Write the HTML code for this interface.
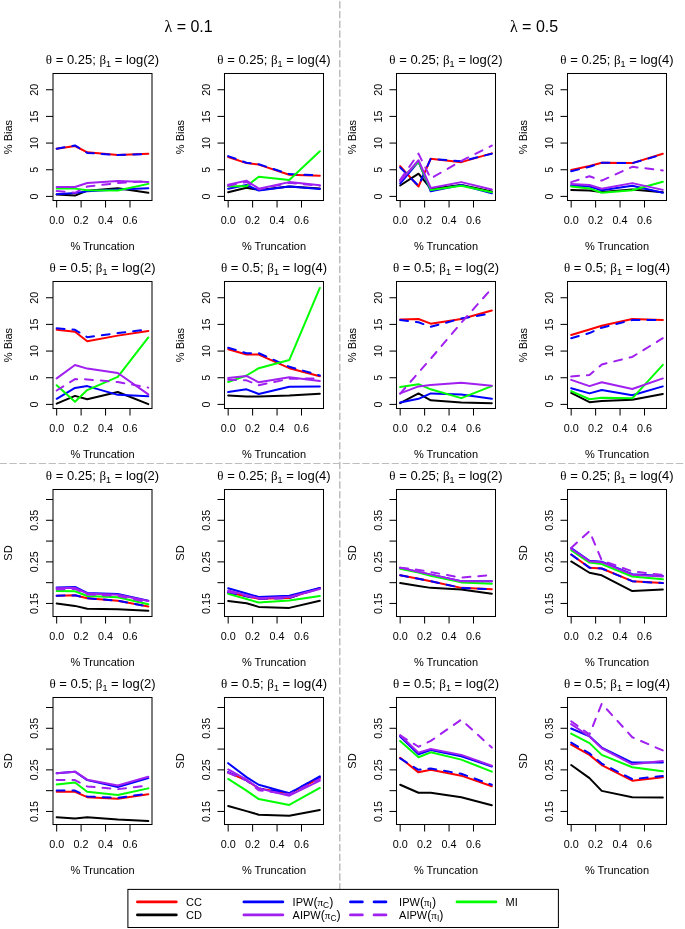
<!DOCTYPE html>
<html><head><meta charset="utf-8"><style>
html,body{margin:0;padding:0;background:#fff;}
svg{display:block;will-change:transform;font-family:"Liberation Sans", sans-serif;fill:#000;}
svg text{font-family:"Liberation Sans", sans-serif;fill:#000;}
.g{font-family:"Liberation Serif", serif;}
</style></head><body>
<svg width="685" height="929" viewBox="0 0 685 929">
<rect width="685" height="929" fill="#fff"/>
<clipPath id="cp00"><rect x="53" y="73.5" width="99" height="127"/></clipPath>
<g clip-path="url(#cp00)" fill="none" stroke-width="2.0" stroke-linejoin="round" stroke-linecap="round">
<polyline points="56.67,148.65 75,146 87.22,152.35 117.78,155 148.33,153.68" stroke="#FF0000"/>
<polyline points="56.67,194.5 75,195.61 87.22,190.63 117.78,188.36 148.33,192.81" stroke="#000000"/>
<polyline points="56.67,194.29 75,193.12 87.22,191.27 117.78,189.42 148.33,188.36" stroke="#0000FF"/>
<polyline points="56.67,148.65 75,145.47 87.22,152.88 117.78,155 148.33,153.94" stroke="#0000FF" stroke-dasharray="7.9 7.9"/>
<polyline points="56.67,188.62 75,188.62 87.22,190.21 117.78,190.48 148.33,183.86" stroke="#00FF00"/>
<polyline points="56.67,186.93 75,186.93 87.22,183.06 117.78,180.94 148.33,182" stroke="#A020F0"/>
<polyline points="56.67,191.01 75,192.86 87.22,186.5 117.78,183.06 148.33,180.94" stroke="#A020F0" stroke-dasharray="7.9 7.9"/>
</g>
<rect x="53" y="73.5" width="99" height="127" fill="none" stroke="#000" stroke-width="1.03"/>
<line x1="56.67" y1="200.5" x2="56.67" y2="207.5" stroke="#000" stroke-width="1.03"/>
<text x="56.67" y="223.8" font-size="10.8" text-anchor="middle">0.0</text>
<line x1="81.11" y1="200.5" x2="81.11" y2="207.5" stroke="#000" stroke-width="1.03"/>
<text x="81.11" y="223.8" font-size="10.8" text-anchor="middle">0.2</text>
<line x1="105.56" y1="200.5" x2="105.56" y2="207.5" stroke="#000" stroke-width="1.03"/>
<text x="105.56" y="223.8" font-size="10.8" text-anchor="middle">0.4</text>
<line x1="130" y1="200.5" x2="130" y2="207.5" stroke="#000" stroke-width="1.03"/>
<text x="130" y="223.8" font-size="10.8" text-anchor="middle">0.6</text>
<text x="102.5" y="249.8" font-size="11.0" text-anchor="middle">% Truncation</text>
<line x1="46" y1="196.4" x2="53" y2="196.4" stroke="#000" stroke-width="1.03"/>
<text transform="translate(38,196.4) rotate(-90)" font-size="10.8" text-anchor="middle">0</text>
<line x1="46" y1="169.74" x2="53" y2="169.74" stroke="#000" stroke-width="1.03"/>
<text transform="translate(38,169.74) rotate(-90)" font-size="10.8" text-anchor="middle">5</text>
<line x1="46" y1="143.07" x2="53" y2="143.07" stroke="#000" stroke-width="1.03"/>
<text transform="translate(38,143.07) rotate(-90)" font-size="10.8" text-anchor="middle">10</text>
<line x1="46" y1="116.41" x2="53" y2="116.41" stroke="#000" stroke-width="1.03"/>
<text transform="translate(38,116.41) rotate(-90)" font-size="10.8" text-anchor="middle">15</text>
<line x1="46" y1="89.74" x2="53" y2="89.74" stroke="#000" stroke-width="1.03"/>
<text transform="translate(38,89.74) rotate(-90)" font-size="10.8" text-anchor="middle">20</text>
<text transform="translate(12.2,137) rotate(-90)" font-size="11.0" text-anchor="middle">% Bias</text>
<text x="102.5" y="64" font-size="13.0" text-anchor="middle"><tspan class="g">θ</tspan> = 0.25; <tspan class="g">β</tspan><tspan font-size="9.10" dy="2.5">1</tspan><tspan dy="-2.5"> = log(2)</tspan></text>
<clipPath id="cp01"><rect x="224.5" y="73.5" width="99" height="127"/></clipPath>
<g clip-path="url(#cp01)" fill="none" stroke-width="2.0" stroke-linejoin="round" stroke-linecap="round">
<polyline points="228.17,157.01 246.5,163.1 258.72,164.58 289.28,174.8 319.83,175.81" stroke="#FF0000"/>
<polyline points="228.17,192.33 246.5,187.67 258.72,189.89 289.28,186.5 319.83,188.62" stroke="#000000"/>
<polyline points="228.17,188.68 246.5,185.02 258.72,190.58 289.28,186.5 319.83,188.99" stroke="#0000FF"/>
<polyline points="228.17,156.11 246.5,162.78 258.72,164.27 289.28,174.11 319.83,175.28" stroke="#0000FF" stroke-dasharray="7.9 7.9"/>
<polyline points="228.17,186.24 246.5,186.24 258.72,176.71 289.28,179.94 319.83,151.19" stroke="#00FF00"/>
<polyline points="228.17,184.76 246.5,180.63 258.72,188.68 289.28,182.11 319.83,185.34" stroke="#A020F0"/>
<polyline points="228.17,185.71 246.5,182 258.72,189.42 289.28,182.8 319.83,185.71" stroke="#A020F0" stroke-dasharray="7.9 7.9"/>
</g>
<rect x="224.5" y="73.5" width="99" height="127" fill="none" stroke="#000" stroke-width="1.03"/>
<line x1="228.17" y1="200.5" x2="228.17" y2="207.5" stroke="#000" stroke-width="1.03"/>
<text x="228.17" y="223.8" font-size="10.8" text-anchor="middle">0.0</text>
<line x1="252.61" y1="200.5" x2="252.61" y2="207.5" stroke="#000" stroke-width="1.03"/>
<text x="252.61" y="223.8" font-size="10.8" text-anchor="middle">0.2</text>
<line x1="277.06" y1="200.5" x2="277.06" y2="207.5" stroke="#000" stroke-width="1.03"/>
<text x="277.06" y="223.8" font-size="10.8" text-anchor="middle">0.4</text>
<line x1="301.5" y1="200.5" x2="301.5" y2="207.5" stroke="#000" stroke-width="1.03"/>
<text x="301.5" y="223.8" font-size="10.8" text-anchor="middle">0.6</text>
<text x="274" y="249.8" font-size="11.0" text-anchor="middle">% Truncation</text>
<line x1="217.5" y1="196.4" x2="224.5" y2="196.4" stroke="#000" stroke-width="1.03"/>
<text transform="translate(209.5,196.4) rotate(-90)" font-size="10.8" text-anchor="middle">0</text>
<line x1="217.5" y1="169.74" x2="224.5" y2="169.74" stroke="#000" stroke-width="1.03"/>
<text transform="translate(209.5,169.74) rotate(-90)" font-size="10.8" text-anchor="middle">5</text>
<line x1="217.5" y1="143.07" x2="224.5" y2="143.07" stroke="#000" stroke-width="1.03"/>
<text transform="translate(209.5,143.07) rotate(-90)" font-size="10.8" text-anchor="middle">10</text>
<line x1="217.5" y1="116.41" x2="224.5" y2="116.41" stroke="#000" stroke-width="1.03"/>
<text transform="translate(209.5,116.41) rotate(-90)" font-size="10.8" text-anchor="middle">15</text>
<line x1="217.5" y1="89.74" x2="224.5" y2="89.74" stroke="#000" stroke-width="1.03"/>
<text transform="translate(209.5,89.74) rotate(-90)" font-size="10.8" text-anchor="middle">20</text>
<text transform="translate(183.7,137) rotate(-90)" font-size="11.0" text-anchor="middle">% Bias</text>
<text x="274" y="64" font-size="13.0" text-anchor="middle"><tspan class="g">θ</tspan> = 0.25; <tspan class="g">β</tspan><tspan font-size="9.10" dy="2.5">1</tspan><tspan dy="-2.5"> = log(4)</tspan></text>
<clipPath id="cp02"><rect x="396.5" y="73.5" width="99" height="127"/></clipPath>
<g clip-path="url(#cp02)" fill="none" stroke-width="2.0" stroke-linejoin="round" stroke-linecap="round">
<polyline points="400.17,166.07 418.5,186.5 430.72,158.76 461.28,162.15 491.83,153.36" stroke="#FF0000"/>
<polyline points="400.17,185.5 418.5,173.69 430.72,188.68 461.28,185.02 491.83,191.59" stroke="#000000"/>
<polyline points="400.17,183.59 418.5,161.67 430.72,191.32 461.28,185.02 491.83,193.39" stroke="#0000FF"/>
<polyline points="400.17,167.55 418.5,185.76 430.72,158.76 461.28,161.35 491.83,153.68" stroke="#0000FF" stroke-dasharray="7.9 7.9"/>
<polyline points="400.17,179.89 418.5,161.88 430.72,189.89 461.28,185.76 491.83,192.33" stroke="#00FF00"/>
<polyline points="400.17,181.42 418.5,160.24 430.72,187.99 461.28,182.11 491.83,189.42" stroke="#A020F0"/>
<polyline points="400.17,179.89 418.5,153.68 430.72,178.46 461.28,160.98 491.83,145.63" stroke="#A020F0" stroke-dasharray="7.9 7.9"/>
</g>
<rect x="396.5" y="73.5" width="99" height="127" fill="none" stroke="#000" stroke-width="1.03"/>
<line x1="400.17" y1="200.5" x2="400.17" y2="207.5" stroke="#000" stroke-width="1.03"/>
<text x="400.17" y="223.8" font-size="10.8" text-anchor="middle">0.0</text>
<line x1="424.61" y1="200.5" x2="424.61" y2="207.5" stroke="#000" stroke-width="1.03"/>
<text x="424.61" y="223.8" font-size="10.8" text-anchor="middle">0.2</text>
<line x1="449.06" y1="200.5" x2="449.06" y2="207.5" stroke="#000" stroke-width="1.03"/>
<text x="449.06" y="223.8" font-size="10.8" text-anchor="middle">0.4</text>
<line x1="473.5" y1="200.5" x2="473.5" y2="207.5" stroke="#000" stroke-width="1.03"/>
<text x="473.5" y="223.8" font-size="10.8" text-anchor="middle">0.6</text>
<text x="446" y="249.8" font-size="11.0" text-anchor="middle">% Truncation</text>
<line x1="389.5" y1="196.4" x2="396.5" y2="196.4" stroke="#000" stroke-width="1.03"/>
<text transform="translate(381.5,196.4) rotate(-90)" font-size="10.8" text-anchor="middle">0</text>
<line x1="389.5" y1="169.74" x2="396.5" y2="169.74" stroke="#000" stroke-width="1.03"/>
<text transform="translate(381.5,169.74) rotate(-90)" font-size="10.8" text-anchor="middle">5</text>
<line x1="389.5" y1="143.07" x2="396.5" y2="143.07" stroke="#000" stroke-width="1.03"/>
<text transform="translate(381.5,143.07) rotate(-90)" font-size="10.8" text-anchor="middle">10</text>
<line x1="389.5" y1="116.41" x2="396.5" y2="116.41" stroke="#000" stroke-width="1.03"/>
<text transform="translate(381.5,116.41) rotate(-90)" font-size="10.8" text-anchor="middle">15</text>
<line x1="389.5" y1="89.74" x2="396.5" y2="89.74" stroke="#000" stroke-width="1.03"/>
<text transform="translate(381.5,89.74) rotate(-90)" font-size="10.8" text-anchor="middle">20</text>
<text transform="translate(355.7,137) rotate(-90)" font-size="11.0" text-anchor="middle">% Bias</text>
<text x="446" y="64" font-size="13.0" text-anchor="middle"><tspan class="g">θ</tspan> = 0.25; <tspan class="g">β</tspan><tspan font-size="9.10" dy="2.5">1</tspan><tspan dy="-2.5"> = log(2)</tspan></text>
<clipPath id="cp03"><rect x="567.5" y="73.5" width="99" height="127"/></clipPath>
<g clip-path="url(#cp03)" fill="none" stroke-width="2.0" stroke-linejoin="round" stroke-linecap="round">
<polyline points="571.17,169.98 589.5,166.07 601.72,162.68 632.28,163.1 662.83,153.68" stroke="#FF0000"/>
<polyline points="571.17,189.89 589.5,190.42 601.72,191.91 632.28,189.42 662.83,192.33" stroke="#000000"/>
<polyline points="571.17,185.5 589.5,186.5 601.72,190.21 632.28,185.76 662.83,192.81" stroke="#0000FF"/>
<polyline points="571.17,171.2 589.5,166.81 601.72,162.68 632.28,163.1 662.83,154.36" stroke="#0000FF" stroke-dasharray="7.9 7.9"/>
<polyline points="571.17,186.5 589.5,188.41 601.72,192.81 632.28,190.21 662.83,181.69" stroke="#00FF00"/>
<polyline points="571.17,184.02 589.5,185.02 601.72,188.68 632.28,183.12 662.83,189.89" stroke="#A020F0"/>
<polyline points="571.17,182.11 589.5,176.28 601.72,180.68 632.28,166.81 662.83,170.41" stroke="#A020F0" stroke-dasharray="7.9 7.9"/>
</g>
<rect x="567.5" y="73.5" width="99" height="127" fill="none" stroke="#000" stroke-width="1.03"/>
<line x1="571.17" y1="200.5" x2="571.17" y2="207.5" stroke="#000" stroke-width="1.03"/>
<text x="571.17" y="223.8" font-size="10.8" text-anchor="middle">0.0</text>
<line x1="595.61" y1="200.5" x2="595.61" y2="207.5" stroke="#000" stroke-width="1.03"/>
<text x="595.61" y="223.8" font-size="10.8" text-anchor="middle">0.2</text>
<line x1="620.06" y1="200.5" x2="620.06" y2="207.5" stroke="#000" stroke-width="1.03"/>
<text x="620.06" y="223.8" font-size="10.8" text-anchor="middle">0.4</text>
<line x1="644.5" y1="200.5" x2="644.5" y2="207.5" stroke="#000" stroke-width="1.03"/>
<text x="644.5" y="223.8" font-size="10.8" text-anchor="middle">0.6</text>
<text x="617" y="249.8" font-size="11.0" text-anchor="middle">% Truncation</text>
<line x1="560.5" y1="196.4" x2="567.5" y2="196.4" stroke="#000" stroke-width="1.03"/>
<text transform="translate(552.5,196.4) rotate(-90)" font-size="10.8" text-anchor="middle">0</text>
<line x1="560.5" y1="169.74" x2="567.5" y2="169.74" stroke="#000" stroke-width="1.03"/>
<text transform="translate(552.5,169.74) rotate(-90)" font-size="10.8" text-anchor="middle">5</text>
<line x1="560.5" y1="143.07" x2="567.5" y2="143.07" stroke="#000" stroke-width="1.03"/>
<text transform="translate(552.5,143.07) rotate(-90)" font-size="10.8" text-anchor="middle">10</text>
<line x1="560.5" y1="116.41" x2="567.5" y2="116.41" stroke="#000" stroke-width="1.03"/>
<text transform="translate(552.5,116.41) rotate(-90)" font-size="10.8" text-anchor="middle">15</text>
<line x1="560.5" y1="89.74" x2="567.5" y2="89.74" stroke="#000" stroke-width="1.03"/>
<text transform="translate(552.5,89.74) rotate(-90)" font-size="10.8" text-anchor="middle">20</text>
<text transform="translate(526.7,137) rotate(-90)" font-size="11.0" text-anchor="middle">% Bias</text>
<text x="617" y="64" font-size="13.0" text-anchor="middle"><tspan class="g">θ</tspan> = 0.25; <tspan class="g">β</tspan><tspan font-size="9.10" dy="2.5">1</tspan><tspan dy="-2.5"> = log(4)</tspan></text>
<clipPath id="cp10"><rect x="53" y="281.5" width="99" height="127"/></clipPath>
<g clip-path="url(#cp10)" fill="none" stroke-width="2.0" stroke-linejoin="round" stroke-linecap="round">
<polyline points="56.67,329.8 75,331.71 87.22,341.18 117.78,335.62 148.33,330.91" stroke="#FF0000"/>
<polyline points="56.67,403.61 75,395.88 87.22,399.27 117.78,392.02 148.33,404.19" stroke="#000000"/>
<polyline points="56.67,398.79 75,387.89 87.22,386.09 117.78,394.87 148.33,396.3" stroke="#0000FF"/>
<polyline points="56.67,328.32 75,329.8 87.22,337.21 117.78,333.08 148.33,329.48" stroke="#0000FF" stroke-dasharray="7.9 7.9"/>
<polyline points="56.67,385.24 75,401.71 87.22,390.06 117.78,376.92 148.33,337.48" stroke="#00FF00"/>
<polyline points="56.67,378.41 75,364.96 87.22,368.61 117.78,373.01 148.33,394.4" stroke="#A020F0"/>
<polyline points="56.67,390.48 75,379.1 87.22,379.41 117.78,382.01 148.33,387.62" stroke="#A020F0" stroke-dasharray="7.9 7.9"/>
</g>
<rect x="53" y="281.5" width="99" height="127" fill="none" stroke="#000" stroke-width="1.03"/>
<line x1="56.67" y1="408.5" x2="56.67" y2="415.5" stroke="#000" stroke-width="1.03"/>
<text x="56.67" y="431.8" font-size="10.8" text-anchor="middle">0.0</text>
<line x1="81.11" y1="408.5" x2="81.11" y2="415.5" stroke="#000" stroke-width="1.03"/>
<text x="81.11" y="431.8" font-size="10.8" text-anchor="middle">0.2</text>
<line x1="105.56" y1="408.5" x2="105.56" y2="415.5" stroke="#000" stroke-width="1.03"/>
<text x="105.56" y="431.8" font-size="10.8" text-anchor="middle">0.4</text>
<line x1="130" y1="408.5" x2="130" y2="415.5" stroke="#000" stroke-width="1.03"/>
<text x="130" y="431.8" font-size="10.8" text-anchor="middle">0.6</text>
<text x="102.5" y="457.8" font-size="11.0" text-anchor="middle">% Truncation</text>
<line x1="46" y1="404.4" x2="53" y2="404.4" stroke="#000" stroke-width="1.03"/>
<text transform="translate(38,404.4) rotate(-90)" font-size="10.8" text-anchor="middle">0</text>
<line x1="46" y1="377.73" x2="53" y2="377.73" stroke="#000" stroke-width="1.03"/>
<text transform="translate(38,377.73) rotate(-90)" font-size="10.8" text-anchor="middle">5</text>
<line x1="46" y1="351.07" x2="53" y2="351.07" stroke="#000" stroke-width="1.03"/>
<text transform="translate(38,351.07) rotate(-90)" font-size="10.8" text-anchor="middle">10</text>
<line x1="46" y1="324.4" x2="53" y2="324.4" stroke="#000" stroke-width="1.03"/>
<text transform="translate(38,324.4) rotate(-90)" font-size="10.8" text-anchor="middle">15</text>
<line x1="46" y1="297.74" x2="53" y2="297.74" stroke="#000" stroke-width="1.03"/>
<text transform="translate(38,297.74) rotate(-90)" font-size="10.8" text-anchor="middle">20</text>
<text transform="translate(12.2,345) rotate(-90)" font-size="11.0" text-anchor="middle">% Bias</text>
<text x="102.5" y="272" font-size="13.0" text-anchor="middle"><tspan class="g">θ</tspan> = 0.5; <tspan class="g">β</tspan><tspan font-size="9.10" dy="2.5">1</tspan><tspan dy="-2.5"> = log(2)</tspan></text>
<clipPath id="cp11"><rect x="224.5" y="281.5" width="99" height="127"/></clipPath>
<g clip-path="url(#cp11)" fill="none" stroke-width="2.0" stroke-linejoin="round" stroke-linecap="round">
<polyline points="228.17,349.18 246.5,354.58 258.72,354.58 289.28,368.19 319.83,376.18" stroke="#FF0000"/>
<polyline points="228.17,395.46 246.5,396.62 258.72,396.62 289.28,395.56 319.83,393.71" stroke="#000000"/>
<polyline points="228.17,392.02 246.5,389.32 258.72,393.97 289.28,386.72 319.83,386.51" stroke="#0000FF"/>
<polyline points="228.17,347.7 246.5,353.31 258.72,353.2 289.28,366.71 319.83,375.5" stroke="#0000FF" stroke-dasharray="7.9 7.9"/>
<polyline points="228.17,382.01 246.5,375.5 258.72,368.19 289.28,360.09 319.83,287.92" stroke="#00FF00"/>
<polyline points="228.17,377.93 246.5,375.92 258.72,382.33 289.28,377.19 319.83,381" stroke="#A020F0"/>
<polyline points="228.17,379.84 246.5,380.31 258.72,385.24 289.28,378.83 319.83,378.41" stroke="#A020F0" stroke-dasharray="7.9 7.9"/>
</g>
<rect x="224.5" y="281.5" width="99" height="127" fill="none" stroke="#000" stroke-width="1.03"/>
<line x1="228.17" y1="408.5" x2="228.17" y2="415.5" stroke="#000" stroke-width="1.03"/>
<text x="228.17" y="431.8" font-size="10.8" text-anchor="middle">0.0</text>
<line x1="252.61" y1="408.5" x2="252.61" y2="415.5" stroke="#000" stroke-width="1.03"/>
<text x="252.61" y="431.8" font-size="10.8" text-anchor="middle">0.2</text>
<line x1="277.06" y1="408.5" x2="277.06" y2="415.5" stroke="#000" stroke-width="1.03"/>
<text x="277.06" y="431.8" font-size="10.8" text-anchor="middle">0.4</text>
<line x1="301.5" y1="408.5" x2="301.5" y2="415.5" stroke="#000" stroke-width="1.03"/>
<text x="301.5" y="431.8" font-size="10.8" text-anchor="middle">0.6</text>
<text x="274" y="457.8" font-size="11.0" text-anchor="middle">% Truncation</text>
<line x1="217.5" y1="404.4" x2="224.5" y2="404.4" stroke="#000" stroke-width="1.03"/>
<text transform="translate(209.5,404.4) rotate(-90)" font-size="10.8" text-anchor="middle">0</text>
<line x1="217.5" y1="377.73" x2="224.5" y2="377.73" stroke="#000" stroke-width="1.03"/>
<text transform="translate(209.5,377.73) rotate(-90)" font-size="10.8" text-anchor="middle">5</text>
<line x1="217.5" y1="351.07" x2="224.5" y2="351.07" stroke="#000" stroke-width="1.03"/>
<text transform="translate(209.5,351.07) rotate(-90)" font-size="10.8" text-anchor="middle">10</text>
<line x1="217.5" y1="324.4" x2="224.5" y2="324.4" stroke="#000" stroke-width="1.03"/>
<text transform="translate(209.5,324.4) rotate(-90)" font-size="10.8" text-anchor="middle">15</text>
<line x1="217.5" y1="297.74" x2="224.5" y2="297.74" stroke="#000" stroke-width="1.03"/>
<text transform="translate(209.5,297.74) rotate(-90)" font-size="10.8" text-anchor="middle">20</text>
<text transform="translate(183.7,345) rotate(-90)" font-size="11.0" text-anchor="middle">% Bias</text>
<text x="274" y="272" font-size="13.0" text-anchor="middle"><tspan class="g">θ</tspan> = 0.5; <tspan class="g">β</tspan><tspan font-size="9.10" dy="2.5">1</tspan><tspan dy="-2.5"> = log(4)</tspan></text>
<clipPath id="cp12"><rect x="396.5" y="281.5" width="99" height="127"/></clipPath>
<g clip-path="url(#cp12)" fill="none" stroke-width="2.0" stroke-linejoin="round" stroke-linecap="round">
<polyline points="400.17,319.53 418.5,319 430.72,323.66 461.28,319 491.83,310.53" stroke="#FF0000"/>
<polyline points="400.17,403.19 418.5,393.39 430.72,400.28 461.28,402.5 491.83,403.19" stroke="#000000"/>
<polyline points="400.17,402.5 418.5,398.79 430.72,393.39 461.28,394.4 491.83,398.79" stroke="#0000FF"/>
<polyline points="400.17,320 418.5,322.23 430.72,326.83 461.28,318.52 491.83,313.38" stroke="#0000FF" stroke-dasharray="7.9 7.9"/>
<polyline points="400.17,387.09 418.5,384.18 430.72,389.32 461.28,398.1 491.83,386.09" stroke="#00FF00"/>
<polyline points="400.17,393.39 418.5,386.4 430.72,384.92 461.28,382.8 491.83,385.71" stroke="#A020F0"/>
<polyline points="400.17,393.71 418.5,372.53 430.72,358.76 461.28,322.76 491.83,288.34" stroke="#A020F0" stroke-dasharray="7.9 7.9"/>
</g>
<rect x="396.5" y="281.5" width="99" height="127" fill="none" stroke="#000" stroke-width="1.03"/>
<line x1="400.17" y1="408.5" x2="400.17" y2="415.5" stroke="#000" stroke-width="1.03"/>
<text x="400.17" y="431.8" font-size="10.8" text-anchor="middle">0.0</text>
<line x1="424.61" y1="408.5" x2="424.61" y2="415.5" stroke="#000" stroke-width="1.03"/>
<text x="424.61" y="431.8" font-size="10.8" text-anchor="middle">0.2</text>
<line x1="449.06" y1="408.5" x2="449.06" y2="415.5" stroke="#000" stroke-width="1.03"/>
<text x="449.06" y="431.8" font-size="10.8" text-anchor="middle">0.4</text>
<line x1="473.5" y1="408.5" x2="473.5" y2="415.5" stroke="#000" stroke-width="1.03"/>
<text x="473.5" y="431.8" font-size="10.8" text-anchor="middle">0.6</text>
<text x="446" y="457.8" font-size="11.0" text-anchor="middle">% Truncation</text>
<line x1="389.5" y1="404.4" x2="396.5" y2="404.4" stroke="#000" stroke-width="1.03"/>
<text transform="translate(381.5,404.4) rotate(-90)" font-size="10.8" text-anchor="middle">0</text>
<line x1="389.5" y1="377.73" x2="396.5" y2="377.73" stroke="#000" stroke-width="1.03"/>
<text transform="translate(381.5,377.73) rotate(-90)" font-size="10.8" text-anchor="middle">5</text>
<line x1="389.5" y1="351.07" x2="396.5" y2="351.07" stroke="#000" stroke-width="1.03"/>
<text transform="translate(381.5,351.07) rotate(-90)" font-size="10.8" text-anchor="middle">10</text>
<line x1="389.5" y1="324.4" x2="396.5" y2="324.4" stroke="#000" stroke-width="1.03"/>
<text transform="translate(381.5,324.4) rotate(-90)" font-size="10.8" text-anchor="middle">15</text>
<line x1="389.5" y1="297.74" x2="396.5" y2="297.74" stroke="#000" stroke-width="1.03"/>
<text transform="translate(381.5,297.74) rotate(-90)" font-size="10.8" text-anchor="middle">20</text>
<text transform="translate(355.7,345) rotate(-90)" font-size="11.0" text-anchor="middle">% Bias</text>
<text x="446" y="272" font-size="13.0" text-anchor="middle"><tspan class="g">θ</tspan> = 0.5; <tspan class="g">β</tspan><tspan font-size="9.10" dy="2.5">1</tspan><tspan dy="-2.5"> = log(2)</tspan></text>
<clipPath id="cp13"><rect x="567.5" y="281.5" width="99" height="127"/></clipPath>
<g clip-path="url(#cp13)" fill="none" stroke-width="2.0" stroke-linejoin="round" stroke-linecap="round">
<polyline points="571.17,334.99 589.5,329.48 601.72,325.83 632.28,319 662.83,320" stroke="#FF0000"/>
<polyline points="571.17,392.97 589.5,402.18 601.72,401.02 632.28,399.85 662.83,393.97" stroke="#000000"/>
<polyline points="571.17,388.31 589.5,393.39 601.72,390.06 632.28,395.19 662.83,386.4" stroke="#0000FF"/>
<polyline points="571.17,338.22 589.5,333.08 601.72,327.68 632.28,320 662.83,320" stroke="#0000FF" stroke-dasharray="7.9 7.9"/>
<polyline points="571.17,391.06 589.5,399.27 601.72,397.79 632.28,398.37 662.83,364.8" stroke="#00FF00"/>
<polyline points="571.17,379.84 589.5,386.09 601.72,382.33 632.28,389.05 662.83,378.41" stroke="#A020F0"/>
<polyline points="571.17,376.5 589.5,375.02 601.72,364.48 632.28,356.91 662.83,338.22" stroke="#A020F0" stroke-dasharray="7.9 7.9"/>
</g>
<rect x="567.5" y="281.5" width="99" height="127" fill="none" stroke="#000" stroke-width="1.03"/>
<line x1="571.17" y1="408.5" x2="571.17" y2="415.5" stroke="#000" stroke-width="1.03"/>
<text x="571.17" y="431.8" font-size="10.8" text-anchor="middle">0.0</text>
<line x1="595.61" y1="408.5" x2="595.61" y2="415.5" stroke="#000" stroke-width="1.03"/>
<text x="595.61" y="431.8" font-size="10.8" text-anchor="middle">0.2</text>
<line x1="620.06" y1="408.5" x2="620.06" y2="415.5" stroke="#000" stroke-width="1.03"/>
<text x="620.06" y="431.8" font-size="10.8" text-anchor="middle">0.4</text>
<line x1="644.5" y1="408.5" x2="644.5" y2="415.5" stroke="#000" stroke-width="1.03"/>
<text x="644.5" y="431.8" font-size="10.8" text-anchor="middle">0.6</text>
<text x="617" y="457.8" font-size="11.0" text-anchor="middle">% Truncation</text>
<line x1="560.5" y1="404.4" x2="567.5" y2="404.4" stroke="#000" stroke-width="1.03"/>
<text transform="translate(552.5,404.4) rotate(-90)" font-size="10.8" text-anchor="middle">0</text>
<line x1="560.5" y1="377.73" x2="567.5" y2="377.73" stroke="#000" stroke-width="1.03"/>
<text transform="translate(552.5,377.73) rotate(-90)" font-size="10.8" text-anchor="middle">5</text>
<line x1="560.5" y1="351.07" x2="567.5" y2="351.07" stroke="#000" stroke-width="1.03"/>
<text transform="translate(552.5,351.07) rotate(-90)" font-size="10.8" text-anchor="middle">10</text>
<line x1="560.5" y1="324.4" x2="567.5" y2="324.4" stroke="#000" stroke-width="1.03"/>
<text transform="translate(552.5,324.4) rotate(-90)" font-size="10.8" text-anchor="middle">15</text>
<line x1="560.5" y1="297.74" x2="567.5" y2="297.74" stroke="#000" stroke-width="1.03"/>
<text transform="translate(552.5,297.74) rotate(-90)" font-size="10.8" text-anchor="middle">20</text>
<text transform="translate(526.7,345) rotate(-90)" font-size="11.0" text-anchor="middle">% Bias</text>
<text x="617" y="272" font-size="13.0" text-anchor="middle"><tspan class="g">θ</tspan> = 0.5; <tspan class="g">β</tspan><tspan font-size="9.10" dy="2.5">1</tspan><tspan dy="-2.5"> = log(4)</tspan></text>
<clipPath id="cp20"><rect x="53" y="489.5" width="99" height="127"/></clipPath>
<g clip-path="url(#cp20)" fill="none" stroke-width="2.0" stroke-linejoin="round" stroke-linecap="round">
<polyline points="56.67,595.81 75,595.31 87.22,598.22 117.78,600.71 148.33,606.48" stroke="#FF0000"/>
<polyline points="56.67,603.49 75,605.9 87.22,608.81 117.78,609.22 148.33,610.72" stroke="#000000"/>
<polyline points="56.67,587.5 75,587 87.22,592.9 117.78,593.9 148.33,600.71" stroke="#0000FF"/>
<polyline points="56.67,595.81 75,595.31 87.22,598.22 117.78,600.71 148.33,606.48" stroke="#0000FF" stroke-dasharray="7.9 7.9"/>
<polyline points="56.67,590.91 75,591.28 87.22,595.97 117.78,597.18 148.33,604.2" stroke="#00FF00"/>
<polyline points="56.67,588.21 75,587.79 87.22,593.48 117.78,594.69 148.33,601.08" stroke="#A020F0"/>
<polyline points="56.67,589.37 75,588.95 87.22,594.56 117.78,595.81 148.33,602.45" stroke="#A020F0" stroke-dasharray="7.9 7.9"/>
</g>
<rect x="53" y="489.5" width="99" height="127" fill="none" stroke="#000" stroke-width="1.03"/>
<line x1="56.67" y1="616.5" x2="56.67" y2="623.5" stroke="#000" stroke-width="1.03"/>
<text x="56.67" y="639.8" font-size="10.8" text-anchor="middle">0.0</text>
<line x1="81.11" y1="616.5" x2="81.11" y2="623.5" stroke="#000" stroke-width="1.03"/>
<text x="81.11" y="639.8" font-size="10.8" text-anchor="middle">0.2</text>
<line x1="105.56" y1="616.5" x2="105.56" y2="623.5" stroke="#000" stroke-width="1.03"/>
<text x="105.56" y="639.8" font-size="10.8" text-anchor="middle">0.4</text>
<line x1="130" y1="616.5" x2="130" y2="623.5" stroke="#000" stroke-width="1.03"/>
<text x="130" y="639.8" font-size="10.8" text-anchor="middle">0.6</text>
<text x="102.5" y="665.8" font-size="11.0" text-anchor="middle">% Truncation</text>
<line x1="46" y1="603.45" x2="53" y2="603.45" stroke="#000" stroke-width="1.03"/>
<text transform="translate(38,603.45) rotate(-90)" font-size="10.8" text-anchor="middle">0.15</text>
<line x1="46" y1="582.66" x2="53" y2="582.66" stroke="#000" stroke-width="1.03"/>
<line x1="46" y1="561.87" x2="53" y2="561.87" stroke="#000" stroke-width="1.03"/>
<text transform="translate(38,561.87) rotate(-90)" font-size="10.8" text-anchor="middle">0.25</text>
<line x1="46" y1="541.08" x2="53" y2="541.08" stroke="#000" stroke-width="1.03"/>
<line x1="46" y1="520.29" x2="53" y2="520.29" stroke="#000" stroke-width="1.03"/>
<text transform="translate(38,520.29) rotate(-90)" font-size="10.8" text-anchor="middle">0.35</text>
<line x1="46" y1="499.5" x2="53" y2="499.5" stroke="#000" stroke-width="1.03"/>
<text transform="translate(12.2,553) rotate(-90)" font-size="11.0" text-anchor="middle">SD</text>
<text x="102.5" y="480" font-size="13.0" text-anchor="middle"><tspan class="g">θ</tspan> = 0.25; <tspan class="g">β</tspan><tspan font-size="9.10" dy="2.5">1</tspan><tspan dy="-2.5"> = log(2)</tspan></text>
<clipPath id="cp21"><rect x="224.5" y="489.5" width="99" height="127"/></clipPath>
<g clip-path="url(#cp21)" fill="none" stroke-width="2.0" stroke-linejoin="round" stroke-linecap="round">
<polyline points="228.17,592.61 246.5,596.31 258.72,598.8 289.28,598.09 319.83,587.91" stroke="#FF0000"/>
<polyline points="228.17,601 246.5,603.2 258.72,606.9 289.28,607.9 319.83,600.79" stroke="#000000"/>
<polyline points="228.17,588.21 246.5,593.48 258.72,597.01 289.28,595.68 319.83,588.08" stroke="#0000FF"/>
<polyline points="228.17,592.61 246.5,596.31 258.72,598.8 289.28,598.09 319.83,587.91" stroke="#0000FF" stroke-dasharray="7.9 7.9"/>
<polyline points="228.17,593.9 246.5,599.05 258.72,602.5 289.28,600.58 319.83,596.1" stroke="#00FF00"/>
<polyline points="228.17,590.41 246.5,595.14 258.72,598.3 289.28,597.01 319.83,589.08" stroke="#A020F0"/>
<polyline points="228.17,591.65 246.5,595.77 258.72,598.51 289.28,597.47 319.83,588.75" stroke="#A020F0" stroke-dasharray="7.9 7.9"/>
</g>
<rect x="224.5" y="489.5" width="99" height="127" fill="none" stroke="#000" stroke-width="1.03"/>
<line x1="228.17" y1="616.5" x2="228.17" y2="623.5" stroke="#000" stroke-width="1.03"/>
<text x="228.17" y="639.8" font-size="10.8" text-anchor="middle">0.0</text>
<line x1="252.61" y1="616.5" x2="252.61" y2="623.5" stroke="#000" stroke-width="1.03"/>
<text x="252.61" y="639.8" font-size="10.8" text-anchor="middle">0.2</text>
<line x1="277.06" y1="616.5" x2="277.06" y2="623.5" stroke="#000" stroke-width="1.03"/>
<text x="277.06" y="639.8" font-size="10.8" text-anchor="middle">0.4</text>
<line x1="301.5" y1="616.5" x2="301.5" y2="623.5" stroke="#000" stroke-width="1.03"/>
<text x="301.5" y="639.8" font-size="10.8" text-anchor="middle">0.6</text>
<text x="274" y="665.8" font-size="11.0" text-anchor="middle">% Truncation</text>
<line x1="217.5" y1="603.45" x2="224.5" y2="603.45" stroke="#000" stroke-width="1.03"/>
<text transform="translate(209.5,603.45) rotate(-90)" font-size="10.8" text-anchor="middle">0.15</text>
<line x1="217.5" y1="582.66" x2="224.5" y2="582.66" stroke="#000" stroke-width="1.03"/>
<line x1="217.5" y1="561.87" x2="224.5" y2="561.87" stroke="#000" stroke-width="1.03"/>
<text transform="translate(209.5,561.87) rotate(-90)" font-size="10.8" text-anchor="middle">0.25</text>
<line x1="217.5" y1="541.08" x2="224.5" y2="541.08" stroke="#000" stroke-width="1.03"/>
<line x1="217.5" y1="520.29" x2="224.5" y2="520.29" stroke="#000" stroke-width="1.03"/>
<text transform="translate(209.5,520.29) rotate(-90)" font-size="10.8" text-anchor="middle">0.35</text>
<line x1="217.5" y1="499.5" x2="224.5" y2="499.5" stroke="#000" stroke-width="1.03"/>
<text transform="translate(183.7,553) rotate(-90)" font-size="11.0" text-anchor="middle">SD</text>
<text x="274" y="480" font-size="13.0" text-anchor="middle"><tspan class="g">θ</tspan> = 0.25; <tspan class="g">β</tspan><tspan font-size="9.10" dy="2.5">1</tspan><tspan dy="-2.5"> = log(4)</tspan></text>
<clipPath id="cp22"><rect x="396.5" y="489.5" width="99" height="127"/></clipPath>
<g clip-path="url(#cp22)" fill="none" stroke-width="2.0" stroke-linejoin="round" stroke-linecap="round">
<polyline points="400.17,575.29 418.5,578.69 430.72,581.19 461.28,587.87 491.83,589.29" stroke="#FF0000"/>
<polyline points="400.17,583.1 418.5,585.96 430.72,587.87 461.28,589.58 491.83,593.69" stroke="#000000"/>
<polyline points="400.17,567.98 418.5,572.13 430.72,574.62 461.28,581.27 491.83,581.27" stroke="#0000FF"/>
<polyline points="400.17,575.29 418.5,578.69 430.72,581.19 461.28,587.87 491.83,589.29" stroke="#0000FF" stroke-dasharray="7.9 7.9"/>
<polyline points="400.17,568.85 418.5,572.55 430.72,575.79 461.28,582.39 491.83,583.76" stroke="#00FF00"/>
<polyline points="400.17,567.64 418.5,571.76 430.72,574.37 461.28,581.19 491.83,581.19" stroke="#A020F0"/>
<polyline points="400.17,567.64 418.5,569.89 430.72,572.09 461.28,577.57 491.83,575.08" stroke="#A020F0" stroke-dasharray="7.9 7.9"/>
</g>
<rect x="396.5" y="489.5" width="99" height="127" fill="none" stroke="#000" stroke-width="1.03"/>
<line x1="400.17" y1="616.5" x2="400.17" y2="623.5" stroke="#000" stroke-width="1.03"/>
<text x="400.17" y="639.8" font-size="10.8" text-anchor="middle">0.0</text>
<line x1="424.61" y1="616.5" x2="424.61" y2="623.5" stroke="#000" stroke-width="1.03"/>
<text x="424.61" y="639.8" font-size="10.8" text-anchor="middle">0.2</text>
<line x1="449.06" y1="616.5" x2="449.06" y2="623.5" stroke="#000" stroke-width="1.03"/>
<text x="449.06" y="639.8" font-size="10.8" text-anchor="middle">0.4</text>
<line x1="473.5" y1="616.5" x2="473.5" y2="623.5" stroke="#000" stroke-width="1.03"/>
<text x="473.5" y="639.8" font-size="10.8" text-anchor="middle">0.6</text>
<text x="446" y="665.8" font-size="11.0" text-anchor="middle">% Truncation</text>
<line x1="389.5" y1="603.45" x2="396.5" y2="603.45" stroke="#000" stroke-width="1.03"/>
<text transform="translate(381.5,603.45) rotate(-90)" font-size="10.8" text-anchor="middle">0.15</text>
<line x1="389.5" y1="582.66" x2="396.5" y2="582.66" stroke="#000" stroke-width="1.03"/>
<line x1="389.5" y1="561.87" x2="396.5" y2="561.87" stroke="#000" stroke-width="1.03"/>
<text transform="translate(381.5,561.87) rotate(-90)" font-size="10.8" text-anchor="middle">0.25</text>
<line x1="389.5" y1="541.08" x2="396.5" y2="541.08" stroke="#000" stroke-width="1.03"/>
<line x1="389.5" y1="520.29" x2="396.5" y2="520.29" stroke="#000" stroke-width="1.03"/>
<text transform="translate(381.5,520.29) rotate(-90)" font-size="10.8" text-anchor="middle">0.35</text>
<line x1="389.5" y1="499.5" x2="396.5" y2="499.5" stroke="#000" stroke-width="1.03"/>
<text transform="translate(355.7,553) rotate(-90)" font-size="11.0" text-anchor="middle">SD</text>
<text x="446" y="480" font-size="13.0" text-anchor="middle"><tspan class="g">θ</tspan> = 0.25; <tspan class="g">β</tspan><tspan font-size="9.10" dy="2.5">1</tspan><tspan dy="-2.5"> = log(2)</tspan></text>
<clipPath id="cp23"><rect x="567.5" y="489.5" width="99" height="127"/></clipPath>
<g clip-path="url(#cp23)" fill="none" stroke-width="2.0" stroke-linejoin="round" stroke-linecap="round">
<polyline points="571.17,554.56 589.5,567.64 601.72,568.47 632.28,581.19 662.83,583.1" stroke="#FF0000"/>
<polyline points="571.17,561.45 589.5,572.75 601.72,575.29 632.28,591.07 662.83,589.58" stroke="#000000"/>
<polyline points="571.17,548.04 589.5,560.71 601.72,561.74 632.28,574.21 662.83,576.03" stroke="#0000FF"/>
<polyline points="571.17,554.56 589.5,567.64 601.72,568.47 632.28,581.19 662.83,583.1" stroke="#0000FF" stroke-dasharray="7.9 7.9"/>
<polyline points="571.17,550.11 589.5,562.58 601.72,564.07 632.28,576.45 662.83,579.36" stroke="#00FF00"/>
<polyline points="571.17,548.74 589.5,561.16 601.72,562.16 632.28,574.66 662.83,576.45" stroke="#A020F0"/>
<polyline points="571.17,547.95 589.5,531.13 601.72,560.37 632.28,571.38 662.83,574.95" stroke="#A020F0" stroke-dasharray="7.9 7.9"/>
</g>
<rect x="567.5" y="489.5" width="99" height="127" fill="none" stroke="#000" stroke-width="1.03"/>
<line x1="571.17" y1="616.5" x2="571.17" y2="623.5" stroke="#000" stroke-width="1.03"/>
<text x="571.17" y="639.8" font-size="10.8" text-anchor="middle">0.0</text>
<line x1="595.61" y1="616.5" x2="595.61" y2="623.5" stroke="#000" stroke-width="1.03"/>
<text x="595.61" y="639.8" font-size="10.8" text-anchor="middle">0.2</text>
<line x1="620.06" y1="616.5" x2="620.06" y2="623.5" stroke="#000" stroke-width="1.03"/>
<text x="620.06" y="639.8" font-size="10.8" text-anchor="middle">0.4</text>
<line x1="644.5" y1="616.5" x2="644.5" y2="623.5" stroke="#000" stroke-width="1.03"/>
<text x="644.5" y="639.8" font-size="10.8" text-anchor="middle">0.6</text>
<text x="617" y="665.8" font-size="11.0" text-anchor="middle">% Truncation</text>
<line x1="560.5" y1="603.45" x2="567.5" y2="603.45" stroke="#000" stroke-width="1.03"/>
<text transform="translate(552.5,603.45) rotate(-90)" font-size="10.8" text-anchor="middle">0.15</text>
<line x1="560.5" y1="582.66" x2="567.5" y2="582.66" stroke="#000" stroke-width="1.03"/>
<line x1="560.5" y1="561.87" x2="567.5" y2="561.87" stroke="#000" stroke-width="1.03"/>
<text transform="translate(552.5,561.87) rotate(-90)" font-size="10.8" text-anchor="middle">0.25</text>
<line x1="560.5" y1="541.08" x2="567.5" y2="541.08" stroke="#000" stroke-width="1.03"/>
<line x1="560.5" y1="520.29" x2="567.5" y2="520.29" stroke="#000" stroke-width="1.03"/>
<text transform="translate(552.5,520.29) rotate(-90)" font-size="10.8" text-anchor="middle">0.35</text>
<line x1="560.5" y1="499.5" x2="567.5" y2="499.5" stroke="#000" stroke-width="1.03"/>
<text transform="translate(526.7,553) rotate(-90)" font-size="11.0" text-anchor="middle">SD</text>
<text x="617" y="480" font-size="13.0" text-anchor="middle"><tspan class="g">θ</tspan> = 0.25; <tspan class="g">β</tspan><tspan font-size="9.10" dy="2.5">1</tspan><tspan dy="-2.5"> = log(4)</tspan></text>
<clipPath id="cp30"><rect x="53" y="697.5" width="99" height="127"/></clipPath>
<g clip-path="url(#cp30)" fill="none" stroke-width="2.0" stroke-linejoin="round" stroke-linecap="round">
<polyline points="56.67,791.79 75,791.79 87.22,797.19 117.78,798.68 148.33,794.28" stroke="#FF0000"/>
<polyline points="56.67,817.21 75,818.41 87.22,817.21 117.78,819.49 148.33,820.99" stroke="#000000"/>
<polyline points="56.67,773.18 75,771.64 87.22,780.11 117.78,786.97 148.33,778.16" stroke="#0000FF"/>
<polyline points="56.67,790.58 75,790.58 87.22,796.48 117.78,797.89 148.33,793.57" stroke="#0000FF" stroke-dasharray="7.9 7.9"/>
<polyline points="56.67,784.48 75,782.57 87.22,791.79 117.78,794.99 148.33,788.38" stroke="#00FF00"/>
<polyline points="56.67,773.18 75,771.64 87.22,779.66 117.78,785.47 148.33,776.75" stroke="#A020F0"/>
<polyline points="56.67,780.07 75,780.07 87.22,786.47 117.78,789.17 148.33,785.47" stroke="#A020F0" stroke-dasharray="7.9 7.9"/>
</g>
<rect x="53" y="697.5" width="99" height="127" fill="none" stroke="#000" stroke-width="1.03"/>
<line x1="56.67" y1="824.5" x2="56.67" y2="831.5" stroke="#000" stroke-width="1.03"/>
<text x="56.67" y="847.8" font-size="10.8" text-anchor="middle">0.0</text>
<line x1="81.11" y1="824.5" x2="81.11" y2="831.5" stroke="#000" stroke-width="1.03"/>
<text x="81.11" y="847.8" font-size="10.8" text-anchor="middle">0.2</text>
<line x1="105.56" y1="824.5" x2="105.56" y2="831.5" stroke="#000" stroke-width="1.03"/>
<text x="105.56" y="847.8" font-size="10.8" text-anchor="middle">0.4</text>
<line x1="130" y1="824.5" x2="130" y2="831.5" stroke="#000" stroke-width="1.03"/>
<text x="130" y="847.8" font-size="10.8" text-anchor="middle">0.6</text>
<text x="102.5" y="873.8" font-size="11.0" text-anchor="middle">% Truncation</text>
<line x1="46" y1="811.45" x2="53" y2="811.45" stroke="#000" stroke-width="1.03"/>
<text transform="translate(38,811.45) rotate(-90)" font-size="10.8" text-anchor="middle">0.15</text>
<line x1="46" y1="790.66" x2="53" y2="790.66" stroke="#000" stroke-width="1.03"/>
<line x1="46" y1="769.87" x2="53" y2="769.87" stroke="#000" stroke-width="1.03"/>
<text transform="translate(38,769.87) rotate(-90)" font-size="10.8" text-anchor="middle">0.25</text>
<line x1="46" y1="749.08" x2="53" y2="749.08" stroke="#000" stroke-width="1.03"/>
<line x1="46" y1="728.29" x2="53" y2="728.29" stroke="#000" stroke-width="1.03"/>
<text transform="translate(38,728.29) rotate(-90)" font-size="10.8" text-anchor="middle">0.35</text>
<line x1="46" y1="707.5" x2="53" y2="707.5" stroke="#000" stroke-width="1.03"/>
<text transform="translate(12.2,761) rotate(-90)" font-size="11.0" text-anchor="middle">SD</text>
<text x="102.5" y="688" font-size="13.0" text-anchor="middle"><tspan class="g">θ</tspan> = 0.5; <tspan class="g">β</tspan><tspan font-size="9.10" dy="2.5">1</tspan><tspan dy="-2.5"> = log(2)</tspan></text>
<clipPath id="cp31"><rect x="224.5" y="697.5" width="99" height="127"/></clipPath>
<g clip-path="url(#cp31)" fill="none" stroke-width="2.0" stroke-linejoin="round" stroke-linecap="round">
<polyline points="228.17,772.64 246.5,780.36 258.72,788.38 289.28,793.57 319.83,778.16" stroke="#FF0000"/>
<polyline points="228.17,805.99 246.5,811.1 258.72,814.72 289.28,815.71 319.83,809.9" stroke="#000000"/>
<polyline points="228.17,763.17 246.5,777.16 258.72,784.77 289.28,793.28 319.83,776.25" stroke="#0000FF"/>
<polyline points="228.17,772.06 246.5,780.36 258.72,788.38 289.28,793.2 319.83,776.96" stroke="#0000FF" stroke-dasharray="7.9 7.9"/>
<polyline points="228.17,778.95 246.5,790.58 258.72,799.1 289.28,804.91 319.83,787.97" stroke="#00FF00"/>
<polyline points="228.17,769.44 246.5,779.66 258.72,788.38 289.28,795.69 319.83,780.65" stroke="#A020F0"/>
<polyline points="228.17,772.76 246.5,780.36 258.72,790.29 289.28,794.28 319.83,778.95" stroke="#A020F0" stroke-dasharray="7.9 7.9"/>
</g>
<rect x="224.5" y="697.5" width="99" height="127" fill="none" stroke="#000" stroke-width="1.03"/>
<line x1="228.17" y1="824.5" x2="228.17" y2="831.5" stroke="#000" stroke-width="1.03"/>
<text x="228.17" y="847.8" font-size="10.8" text-anchor="middle">0.0</text>
<line x1="252.61" y1="824.5" x2="252.61" y2="831.5" stroke="#000" stroke-width="1.03"/>
<text x="252.61" y="847.8" font-size="10.8" text-anchor="middle">0.2</text>
<line x1="277.06" y1="824.5" x2="277.06" y2="831.5" stroke="#000" stroke-width="1.03"/>
<text x="277.06" y="847.8" font-size="10.8" text-anchor="middle">0.4</text>
<line x1="301.5" y1="824.5" x2="301.5" y2="831.5" stroke="#000" stroke-width="1.03"/>
<text x="301.5" y="847.8" font-size="10.8" text-anchor="middle">0.6</text>
<text x="274" y="873.8" font-size="11.0" text-anchor="middle">% Truncation</text>
<line x1="217.5" y1="811.45" x2="224.5" y2="811.45" stroke="#000" stroke-width="1.03"/>
<text transform="translate(209.5,811.45) rotate(-90)" font-size="10.8" text-anchor="middle">0.15</text>
<line x1="217.5" y1="790.66" x2="224.5" y2="790.66" stroke="#000" stroke-width="1.03"/>
<line x1="217.5" y1="769.87" x2="224.5" y2="769.87" stroke="#000" stroke-width="1.03"/>
<text transform="translate(209.5,769.87) rotate(-90)" font-size="10.8" text-anchor="middle">0.25</text>
<line x1="217.5" y1="749.08" x2="224.5" y2="749.08" stroke="#000" stroke-width="1.03"/>
<line x1="217.5" y1="728.29" x2="224.5" y2="728.29" stroke="#000" stroke-width="1.03"/>
<text transform="translate(209.5,728.29) rotate(-90)" font-size="10.8" text-anchor="middle">0.35</text>
<line x1="217.5" y1="707.5" x2="224.5" y2="707.5" stroke="#000" stroke-width="1.03"/>
<text transform="translate(183.7,761) rotate(-90)" font-size="11.0" text-anchor="middle">SD</text>
<text x="274" y="688" font-size="13.0" text-anchor="middle"><tspan class="g">θ</tspan> = 0.5; <tspan class="g">β</tspan><tspan font-size="9.10" dy="2.5">1</tspan><tspan dy="-2.5"> = log(4)</tspan></text>
<clipPath id="cp32"><rect x="396.5" y="697.5" width="99" height="127"/></clipPath>
<g clip-path="url(#cp32)" fill="none" stroke-width="2.0" stroke-linejoin="round" stroke-linecap="round">
<polyline points="400.17,757.72 418.5,772.35 430.72,769.85 461.28,775.67 491.83,786.26" stroke="#FF0000"/>
<polyline points="400.17,784.77 418.5,792.78 430.72,792.78 461.28,797.19 491.83,805.2" stroke="#000000"/>
<polyline points="400.17,736.54 418.5,754.36 430.72,749.96 461.28,756.23 491.83,766.45" stroke="#0000FF"/>
<polyline points="400.17,758.43 418.5,769.85 430.72,768.44 461.28,773.76 491.83,784.77" stroke="#0000FF" stroke-dasharray="7.9 7.9"/>
<polyline points="400.17,740.94 418.5,757.27 430.72,752.32 461.28,759.63 491.83,771.64" stroke="#00FF00"/>
<polyline points="400.17,735.33 418.5,752.66 430.72,748.96 461.28,754.86 491.83,765.74" stroke="#A020F0"/>
<polyline points="400.17,735.33 418.5,746.76 430.72,740.94 461.28,719.72 491.83,747.59" stroke="#A020F0" stroke-dasharray="7.9 7.9"/>
</g>
<rect x="396.5" y="697.5" width="99" height="127" fill="none" stroke="#000" stroke-width="1.03"/>
<line x1="400.17" y1="824.5" x2="400.17" y2="831.5" stroke="#000" stroke-width="1.03"/>
<text x="400.17" y="847.8" font-size="10.8" text-anchor="middle">0.0</text>
<line x1="424.61" y1="824.5" x2="424.61" y2="831.5" stroke="#000" stroke-width="1.03"/>
<text x="424.61" y="847.8" font-size="10.8" text-anchor="middle">0.2</text>
<line x1="449.06" y1="824.5" x2="449.06" y2="831.5" stroke="#000" stroke-width="1.03"/>
<text x="449.06" y="847.8" font-size="10.8" text-anchor="middle">0.4</text>
<line x1="473.5" y1="824.5" x2="473.5" y2="831.5" stroke="#000" stroke-width="1.03"/>
<text x="473.5" y="847.8" font-size="10.8" text-anchor="middle">0.6</text>
<text x="446" y="873.8" font-size="11.0" text-anchor="middle">% Truncation</text>
<line x1="389.5" y1="811.45" x2="396.5" y2="811.45" stroke="#000" stroke-width="1.03"/>
<text transform="translate(381.5,811.45) rotate(-90)" font-size="10.8" text-anchor="middle">0.15</text>
<line x1="389.5" y1="790.66" x2="396.5" y2="790.66" stroke="#000" stroke-width="1.03"/>
<line x1="389.5" y1="769.87" x2="396.5" y2="769.87" stroke="#000" stroke-width="1.03"/>
<text transform="translate(381.5,769.87) rotate(-90)" font-size="10.8" text-anchor="middle">0.25</text>
<line x1="389.5" y1="749.08" x2="396.5" y2="749.08" stroke="#000" stroke-width="1.03"/>
<line x1="389.5" y1="728.29" x2="396.5" y2="728.29" stroke="#000" stroke-width="1.03"/>
<text transform="translate(381.5,728.29) rotate(-90)" font-size="10.8" text-anchor="middle">0.35</text>
<line x1="389.5" y1="707.5" x2="396.5" y2="707.5" stroke="#000" stroke-width="1.03"/>
<text transform="translate(355.7,761) rotate(-90)" font-size="11.0" text-anchor="middle">SD</text>
<text x="446" y="688" font-size="13.0" text-anchor="middle"><tspan class="g">θ</tspan> = 0.5; <tspan class="g">β</tspan><tspan font-size="9.10" dy="2.5">1</tspan><tspan dy="-2.5"> = log(2)</tspan></text>
<clipPath id="cp33"><rect x="567.5" y="697.5" width="99" height="127"/></clipPath>
<g clip-path="url(#cp33)" fill="none" stroke-width="2.0" stroke-linejoin="round" stroke-linecap="round">
<polyline points="571.17,744.56 589.5,754.86 601.72,765.04 632.28,780.65 662.83,777.16" stroke="#FF0000"/>
<polyline points="571.17,765.04 589.5,778.16 601.72,790.87 632.28,797.19 662.83,797.6" stroke="#000000"/>
<polyline points="571.17,728.52 589.5,736.33 601.72,747.55 632.28,762.54 662.83,762.54" stroke="#0000FF"/>
<polyline points="571.17,742.65 589.5,753.36 601.72,763.54 632.28,779.16 662.83,775.96" stroke="#0000FF" stroke-dasharray="7.9 7.9"/>
<polyline points="571.17,733.63 589.5,743.14 601.72,754.86 632.28,767.24 662.83,771.35" stroke="#00FF00"/>
<polyline points="571.17,724.12 589.5,736.54 601.72,748.25 632.28,764.33 662.83,761.05" stroke="#A020F0"/>
<polyline points="571.17,721.21 589.5,734.42 601.72,703.68 632.28,737.24 662.83,750.45" stroke="#A020F0" stroke-dasharray="7.9 7.9"/>
</g>
<rect x="567.5" y="697.5" width="99" height="127" fill="none" stroke="#000" stroke-width="1.03"/>
<line x1="571.17" y1="824.5" x2="571.17" y2="831.5" stroke="#000" stroke-width="1.03"/>
<text x="571.17" y="847.8" font-size="10.8" text-anchor="middle">0.0</text>
<line x1="595.61" y1="824.5" x2="595.61" y2="831.5" stroke="#000" stroke-width="1.03"/>
<text x="595.61" y="847.8" font-size="10.8" text-anchor="middle">0.2</text>
<line x1="620.06" y1="824.5" x2="620.06" y2="831.5" stroke="#000" stroke-width="1.03"/>
<text x="620.06" y="847.8" font-size="10.8" text-anchor="middle">0.4</text>
<line x1="644.5" y1="824.5" x2="644.5" y2="831.5" stroke="#000" stroke-width="1.03"/>
<text x="644.5" y="847.8" font-size="10.8" text-anchor="middle">0.6</text>
<text x="617" y="873.8" font-size="11.0" text-anchor="middle">% Truncation</text>
<line x1="560.5" y1="811.45" x2="567.5" y2="811.45" stroke="#000" stroke-width="1.03"/>
<text transform="translate(552.5,811.45) rotate(-90)" font-size="10.8" text-anchor="middle">0.15</text>
<line x1="560.5" y1="790.66" x2="567.5" y2="790.66" stroke="#000" stroke-width="1.03"/>
<line x1="560.5" y1="769.87" x2="567.5" y2="769.87" stroke="#000" stroke-width="1.03"/>
<text transform="translate(552.5,769.87) rotate(-90)" font-size="10.8" text-anchor="middle">0.25</text>
<line x1="560.5" y1="749.08" x2="567.5" y2="749.08" stroke="#000" stroke-width="1.03"/>
<line x1="560.5" y1="728.29" x2="567.5" y2="728.29" stroke="#000" stroke-width="1.03"/>
<text transform="translate(552.5,728.29) rotate(-90)" font-size="10.8" text-anchor="middle">0.35</text>
<line x1="560.5" y1="707.5" x2="567.5" y2="707.5" stroke="#000" stroke-width="1.03"/>
<text transform="translate(526.7,761) rotate(-90)" font-size="11.0" text-anchor="middle">SD</text>
<text x="617" y="688" font-size="13.0" text-anchor="middle"><tspan class="g">θ</tspan> = 0.5; <tspan class="g">β</tspan><tspan font-size="9.10" dy="2.5">1</tspan><tspan dy="-2.5"> = log(4)</tspan></text>
<text x="188.6" y="31.8" font-size="16.0" text-anchor="middle"><tspan class="g">λ</tspan> = 0.1</text>
<text x="534.0" y="31.8" font-size="16.0" text-anchor="middle"><tspan class="g">λ</tspan> = 0.5</text>
<line x1="339.8" y1="0" x2="339.8" y2="889.4" stroke="#B4B4B4" stroke-width="1.3" stroke-dasharray="6.4 3.4" stroke-dashoffset="8.25" stroke-linecap="round"/>
<line x1="0" y1="463.5" x2="685" y2="463.5" stroke="#BEBEBE" stroke-width="1.2" stroke-dasharray="6.4 3.4" stroke-dashoffset="9.7" stroke-linecap="round"/>
<rect x="127.9" y="889.4" width="430.5" height="38.1" fill="#fff" stroke="#000" stroke-width="1.03"/>
<line x1="137.45" y1="901.9" x2="176.25" y2="901.9" stroke="#FF0000" stroke-width="2.9" stroke-linecap="round"/>
<text x="186.1" y="905.9" font-size="11.0">CC</text>
<line x1="137.45" y1="914.9" x2="176.25" y2="914.9" stroke="#000000" stroke-width="2.9" stroke-linecap="round"/>
<text x="186.1" y="918.9" font-size="11.0">CD</text>
<line x1="243.98" y1="901.9" x2="282.78" y2="901.9" stroke="#0000FF" stroke-width="2.9" stroke-linecap="round"/>
<text x="292.6" y="905.9" font-size="11.0">IPW<tspan font-size="12.4">(</tspan><tspan class="g">π</tspan><tspan font-size="8.4" dy="2.1">C</tspan><tspan dy="-2.1" font-size="12.4">)</tspan></text>
<line x1="243.98" y1="914.9" x2="282.78" y2="914.9" stroke="#A020F0" stroke-width="2.9" stroke-linecap="round"/>
<text x="292.6" y="918.9" font-size="11.0">AIPW<tspan font-size="12.4">(</tspan><tspan class="g">π</tspan><tspan font-size="8.4" dy="2.1">C</tspan><tspan dy="-2.1" font-size="12.4">)</tspan></text>
<line x1="350.51" y1="901.9" x2="389.31" y2="901.9" stroke="#0000FF" stroke-width="2.9" stroke-linecap="round" stroke-dasharray="11.8 11.8"/>
<text x="399.1" y="905.9" font-size="11.0">IPW<tspan font-size="12.4">(</tspan><tspan class="g">π</tspan><tspan font-size="8.4" dy="2.1">I</tspan><tspan dy="-2.1" font-size="12.4">)</tspan></text>
<line x1="350.51" y1="914.9" x2="389.31" y2="914.9" stroke="#A020F0" stroke-width="2.9" stroke-linecap="round" stroke-dasharray="11.8 11.8"/>
<text x="399.1" y="918.9" font-size="11.0">AIPW<tspan font-size="12.4">(</tspan><tspan class="g">π</tspan><tspan font-size="8.4" dy="2.1">I</tspan><tspan dy="-2.1" font-size="12.4">)</tspan></text>
<line x1="457.04" y1="901.9" x2="495.84" y2="901.9" stroke="#00FF00" stroke-width="2.9" stroke-linecap="round"/>
<text x="505.6" y="905.9" font-size="11.0">MI</text>
</svg>
</body></html>
